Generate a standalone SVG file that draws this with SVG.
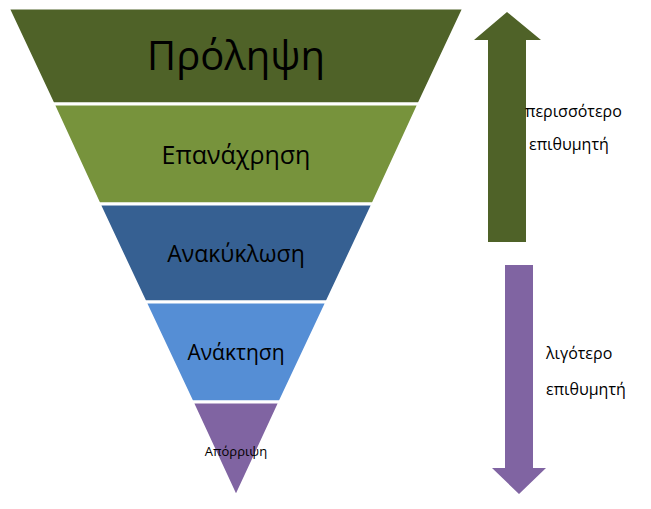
<svg xmlns="http://www.w3.org/2000/svg" width="651" height="509" viewBox="0 0 651 509">
<style>
.b{stroke:#fff;stroke-width:3}
text{font-family:"Open Sans","Noto Sans",sans-serif;text-anchor:middle}
.l{text-anchor:start;font-size:16px;fill:#000}
</style>
<rect width="651" height="509" fill="#fff"/>
<g id="n1"><polygon class="b" points="8,8 464,8 419,104 53,104" fill="#4f6228"/><text x="236" y="70" font-size="40">Πρόληψη</text></g>
<g id="n2"><polygon class="b" points="53,104 419,104 373,204 99,204" fill="#77933c"/><text x="236" y="164" font-size="25">Επανάχρηση</text></g>
<g id="n3"><polygon class="b" points="99,204 373,204 327,302 145,302" fill="#366092"/><text x="236" y="262" font-size="23">Ανακύκλωση</text></g>
<g id="n4"><polygon class="b" points="145,302 327,302 280,402 192,402" fill="#558ed5"/><text x="236" y="360" font-size="21">Ανάκτηση</text></g>
<g id="n5"><polygon class="b" points="192,402 280,402 236,497" fill="#8064a2"/><text x="236" y="456" font-size="13">Απόρριψη</text></g>
<g id="connectors">
<polygon points="488,242 526,242 526,40 541,40 507,12 474,40 488,40" fill="#4f6228"/>
<polygon points="505,265 533,265 533,468 546,468 519,494 492,468 505,468" fill="#8064a2"/>
</g>
<g id="labels">
<text class="l" x="525" y="117">περισσότερο</text>
<text class="l" x="529" y="150">επιθυμητή</text>
<text class="l" x="546" y="359">λιγότερο</text>
<text class="l" x="546" y="395">επιθυμητή</text>
</g>
</svg>
